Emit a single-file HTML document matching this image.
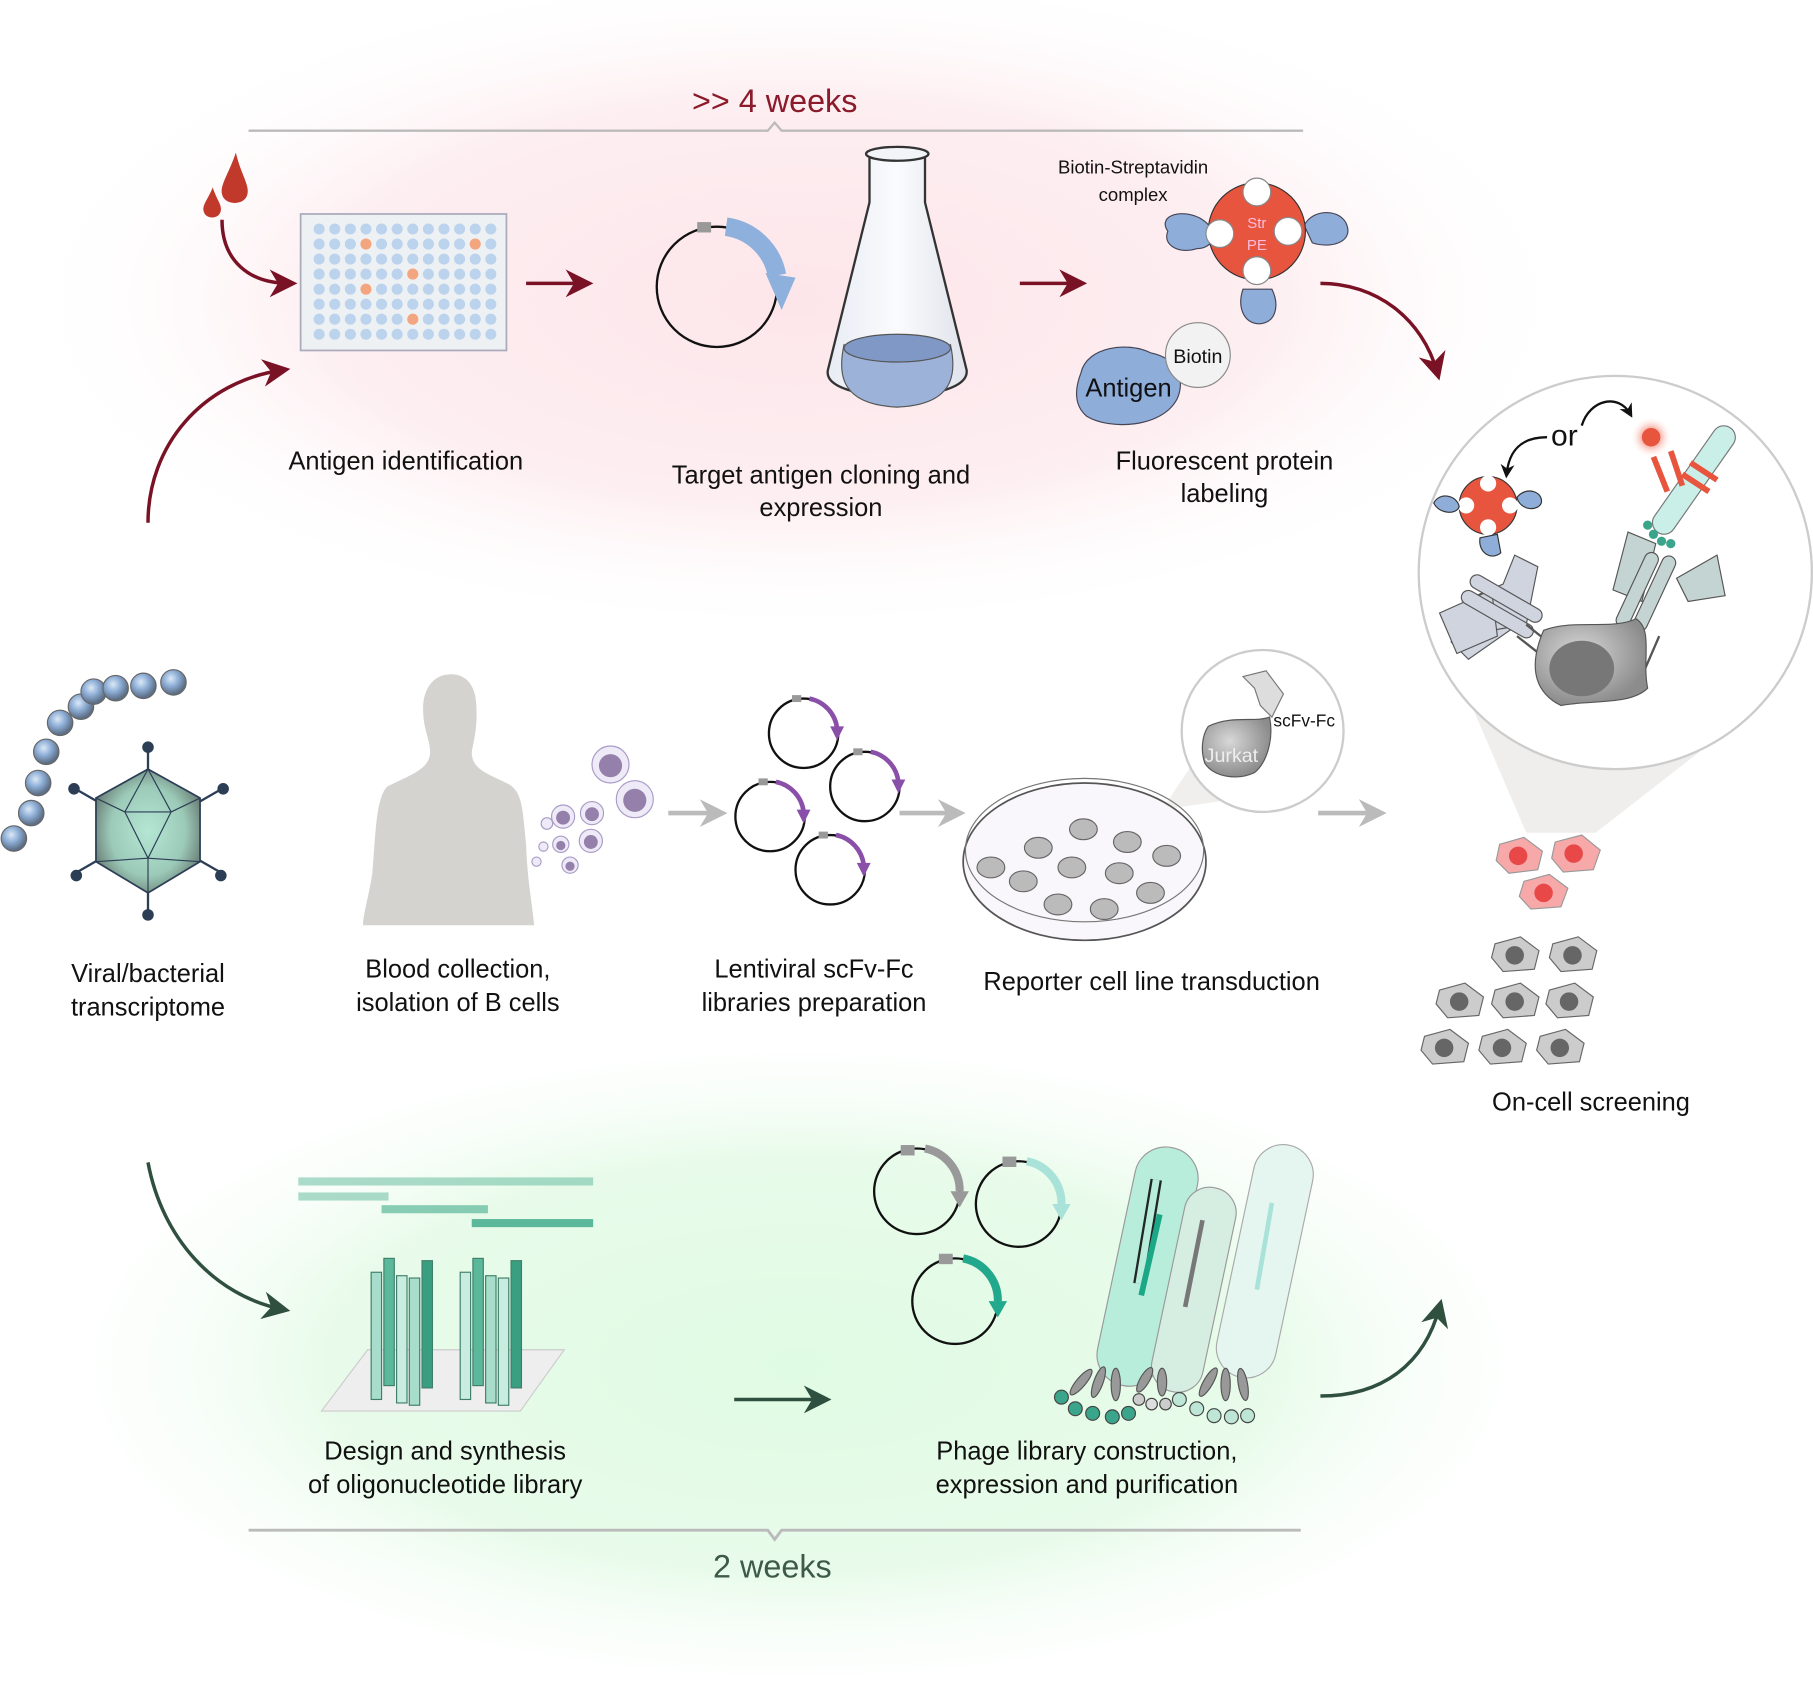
<!DOCTYPE html>
<html><head><meta charset="utf-8"><style>
html,body{margin:0;padding:0;background:#fff;}
svg{display:block;}
text{font-family:"Liberation Sans",sans-serif;}
</style></head><body>
<svg width="1813" height="1684" viewBox="0 0 1568 1456" preserveAspectRatio="none" xmlns="http://www.w3.org/2000/svg">
<defs>
<radialGradient id="pink" cx="0.5" cy="0.5" r="0.5"><stop offset="0" stop-color="#fde6ea"/><stop offset="0.6" stop-color="#fdeef1"/><stop offset="1" stop-color="#fff" stop-opacity="0"/></radialGradient>
<radialGradient id="green" cx="0.5" cy="0.5" r="0.5"><stop offset="0" stop-color="#e0fbe4"/><stop offset="0.6" stop-color="#e8fbea"/><stop offset="1" stop-color="#fff" stop-opacity="0"/></radialGradient>
<radialGradient id="bead" cx="0.4" cy="0.35" r="0.6"><stop offset="0" stop-color="#dbe9f7"/><stop offset="0.5" stop-color="#8eaed6"/><stop offset="1" stop-color="#5d6f86"/></radialGradient>
<radialGradient id="virus" cx="0.5" cy="0.5" r="0.6"><stop offset="0" stop-color="#b5e6d4"/><stop offset="0.6" stop-color="#9ccab8"/><stop offset="1" stop-color="#5f6e68"/></radialGradient>
<radialGradient id="cell" cx="0.4" cy="0.4" r="0.6"><stop offset="0" stop-color="#d8d8d8"/><stop offset="1" stop-color="#8c8c8c"/></radialGradient>
<radialGradient id="pe" cx="0.5" cy="0.5" r="0.5"><stop offset="0" stop-color="#f26a55"/><stop offset="0.5" stop-color="#f7a89c" stop-opacity="0.7"/><stop offset="1" stop-color="#fff" stop-opacity="0"/></radialGradient>
<linearGradient id="flask" x1="0" y1="0" x2="1" y2="0"><stop offset="0" stop-color="#e8ecf4"/><stop offset="0.5" stop-color="#fafbfd"/><stop offset="1" stop-color="#dfe3eb"/></linearGradient>
<marker id="ar" viewBox="0 0 10 10" refX="7" refY="5" markerWidth="8" markerHeight="8" orient="auto"><path d="M0,0 L10,5 L0,10 L3,5z" fill="#7a1226"/></marker>
<marker id="ag" viewBox="0 0 10 10" refX="7" refY="5" markerWidth="8" markerHeight="8" orient="auto"><path d="M0,0 L10,5 L0,10 L3,5z" fill="#2f4f3f"/></marker>
<marker id="agr" viewBox="0 0 10 10" refX="7" refY="5" markerWidth="6" markerHeight="6" orient="auto"><path d="M0,0 L10,5 L0,10 L3,5z" fill="#bbb"/></marker>
<marker id="ab" viewBox="0 0 10 10" refX="7" refY="5" markerWidth="6" markerHeight="6" orient="auto"><path d="M0,0 L10,5 L0,10 L3,5z" fill="#111"/></marker>
</defs>
<rect width="1568" height="1456" fill="#fff"/>
<ellipse cx="690" cy="260" rx="680" ry="290" fill="url(#pink)"/>
<ellipse cx="690" cy="1180" rx="680" ry="300" fill="url(#green)"/>

<text x="670" y="97" font-size="28" fill="#8b1a2b" text-anchor="middle">&gt;&gt; 4 weeks</text>
<path d="M215,113 H664 L670,106 L676,113 H1127" stroke="#bbb" stroke-width="2" fill="none"/>
<path d="M215,1323 H664 L670,1331 L676,1323 H1125" stroke="#bbb" stroke-width="2.5" fill="none"/>
<text x="668" y="1364" font-size="28" fill="#3d5a48" text-anchor="middle">2 weeks</text>

<path d="M204,132 C198,150 190,160 192,168 C194,178 212,178 214,168 C216,160 208,150 204,132z" fill="#c0392b"/>
<path d="M184,162 C180,172 175,177 176,182 C177,190 190,190 191,182 C192,177 187,172 184,162z" fill="#c0392b"/>
<path d="M192,190 C192,225 215,245 250,245" stroke="#7a1226" stroke-width="3" fill="none" marker-end="url(#ar)"/>
<path d="M455,245 H506" stroke="#7a1226" stroke-width="3" fill="none" marker-end="url(#ar)"/>
<path d="M128,452 C128,385 175,330 244,320" stroke="#7a1226" stroke-width="3" fill="none" marker-end="url(#ar)"/>
<path d="M882,245 H933" stroke="#7a1226" stroke-width="3" fill="none" marker-end="url(#ar)"/>
<path d="M1142,245 C1190,245 1230,275 1243,322" stroke="#7a1226" stroke-width="3" fill="none" marker-end="url(#ar)"/>

<rect x="260" y="185" width="178" height="118" fill="#eef1f3" stroke="#aab" stroke-width="1.5"/>

<circle cx="620" cy="248" r="52" fill="none" stroke="#111" stroke-width="2"/>
<path d="M628,196 A52,52 0 0 1 672,238" stroke="#8eb0dc" stroke-width="16" fill="none"/>
<path d="M662,236 L688,240 L676,268z" fill="#8eb0dc"/>
<rect x="603" y="192" width="12" height="9" fill="#999"/>
<path d="M752,135 L752,175 L716,320 C710,350 840,350 836,320 L800,175 L800,135z" fill="url(#flask)" stroke="#333" stroke-width="2"/>
<ellipse cx="776" cy="133" rx="27" ry="6" fill="#f3f4f7" stroke="#333" stroke-width="2"/>
<path d="M730,298 C724,325 728,350 776,352 C824,350 828,325 822,298 C810,308 742,308 730,298z" fill="#9db2d9" stroke="#555"/>
<ellipse cx="776" cy="301" rx="46" ry="12" fill="#7f98c6" stroke="#555"/>

<path d="M1010,200 C1000,185 1025,180 1040,190 C1055,200 1050,215 1035,215 C1020,220 1005,212 1010,200z" fill="#8eadd9" stroke="#445" stroke-width="1"/>
<path d="M1128,195 C1135,180 1160,180 1165,195 C1170,210 1150,215 1135,210z" fill="#8eadd9" stroke="#445" stroke-width="1"/>
<path d="M1075,250 C1070,265 1075,280 1090,280 C1105,278 1106,262 1100,250z" fill="#8eadd9" stroke="#445" stroke-width="1"/>
<circle cx="1087" cy="200" r="42" fill="#e8553e" stroke="#333" stroke-width="1"/>
<circle cx="1087" cy="166" r="12" fill="#fff" stroke="#888"/>
<circle cx="1087" cy="234" r="12" fill="#fff" stroke="#888"/>
<circle cx="1055" cy="202" r="12" fill="#fff" stroke="#888"/>
<circle cx="1114" cy="200" r="12" fill="#fff" stroke="#888"/>
<text x="1087" y="197" font-size="13" fill="#fbd" text-anchor="middle">Str</text>
<text x="1087" y="216" font-size="13" fill="#fbd" text-anchor="middle">PE</text>
<text x="980" y="150" font-size="16" fill="#111" text-anchor="middle">Biotin-Streptavidin</text>
<text x="980" y="174" font-size="16" fill="#111" text-anchor="middle">complex</text>
<path d="M935,322 C940,300 975,295 995,305 C1020,310 1025,330 1018,345 C1005,370 960,372 940,360 C928,350 930,335 935,322z" fill="#8eadd9" stroke="#445"/>
<circle cx="1036" cy="307" r="28" fill="#f2f2f2" stroke="#888"/>
<text x="1036" y="314" font-size="17" fill="#111" text-anchor="middle">Biotin</text>
<text x="976" y="343" font-size="22" fill="#111" text-anchor="middle">Antigen</text>

<text x="351" y="406" font-size="22" fill="#111" text-anchor="middle">Antigen identification</text>
<text x="710" y="418" font-size="22" fill="#111" text-anchor="middle">Target antigen cloning and</text>
<text x="710" y="446" font-size="22" fill="#111" text-anchor="middle">expression</text>
<text x="1059" y="406" font-size="22" fill="#111" text-anchor="middle">Fluorescent protein</text>
<text x="1059" y="434" font-size="22" fill="#111" text-anchor="middle">labeling</text>

<path d="M1262,585 L1320,720 L1380,720 L1470,650z" fill="#efeeec"/>
<circle cx="1397" cy="495" r="170" fill="#fff" stroke="#ccc" stroke-width="2"/>
<text x="1353" y="385" font-size="26" fill="#111" text-anchor="middle">or</text>
<path d="M1338,378 C1315,378 1305,390 1303,410" stroke="#111" stroke-width="2" fill="none" marker-end="url(#ab)"/>
<path d="M1368,368 C1375,345 1400,340 1410,358" stroke="#111" stroke-width="2" fill="none" marker-end="url(#ab)"/>
<g fill="#cfd4df" stroke="#555" stroke-width="1">
<path d="M1255,555 L1300,520 L1320,535 L1270,570z"/>
<path d="M1265,520 L1300,505 L1310,480 L1330,490 L1320,540 L1290,545z"/>
<path d="M1245,530 L1290,510 L1295,550 L1260,565z"/>
<rect x="1268" y="510" width="70" height="12" rx="6" transform="rotate(30 1300 516)"/>
<rect x="1260" y="525" width="70" height="12" rx="6" transform="rotate(30 1295 531)"/>
</g>
<path d="M1320,540 L1345,560 M1312,550 L1340,572" stroke="#555" stroke-width="2"/>
<circle cx="1287" cy="437" r="25" fill="#e8553e" stroke="#333"/>
<circle cx="1287" cy="418" r="7" fill="#fff"/><circle cx="1287" cy="456" r="7" fill="#fff"/>
<circle cx="1268" cy="437" r="7" fill="#fff"/><circle cx="1306" cy="437" r="7" fill="#fff"/>
<path d="M1240,435 C1245,425 1260,428 1262,438 C1260,445 1245,445 1240,435z" fill="#8eadd9" stroke="#333"/>
<path d="M1312,430 C1320,420 1335,425 1333,435 C1330,442 1315,442 1312,430z" fill="#8eadd9" stroke="#333"/>
<path d="M1280,465 C1278,478 1290,485 1298,478 L1295,462z" fill="#8eadd9" stroke="#333"/>
<g fill="#c4d4d2" stroke="#555" stroke-width="1">
<path d="M1408,460 L1432,470 L1420,520 L1395,510z"/>
<path d="M1450,500 L1485,480 L1492,515 L1460,520z"/>
<rect x="1410" y="475" width="12" height="70" rx="6" transform="rotate(25 1416 510)"/>
<rect x="1425" y="478" width="12" height="70" rx="6" transform="rotate(25 1431 513)"/>
</g>
<path d="M1422,548 L1410,575 M1435,550 L1422,580" stroke="#555" stroke-width="2"/>
<rect x="1455" y="360" width="20" height="110" rx="10" fill="#c9efe8" stroke="#777" transform="rotate(35 1465 415)"/>
<path d="M1430,395 L1442,425 M1445,390 L1455,420 M1455,410 L1478,425 M1462,400 L1485,415" stroke="#e8553e" stroke-width="5"/>
<circle cx="1428" cy="378" r="18" fill="url(#pe)"/>
<circle cx="1428" cy="378" r="8" fill="#e8553e"/>
<g fill="#3aa58a"><circle cx="1425" cy="454" r="4"/><circle cx="1430" cy="462" r="4"/><circle cx="1437" cy="468" r="4"/><circle cx="1445" cy="470" r="4"/></g>
<path d="M1335,545 C1360,535 1395,545 1415,535 C1430,545 1420,570 1425,595 C1410,610 1375,605 1350,610 C1330,600 1320,580 1335,545z" fill="url(#cell)" stroke="#555"/>
<ellipse cx="1368" cy="578" rx="28" ry="24" fill="#777"/>

<g fill="url(#bead)" stroke="#666" stroke-width="1">
<circle cx="12" cy="725" r="11"/><circle cx="27" cy="703" r="11"/><circle cx="33" cy="677" r="11"/><circle cx="40" cy="650" r="11"/><circle cx="52" cy="625" r="11"/><circle cx="70" cy="611" r="11"/><circle cx="81" cy="598" r="11"/><circle cx="100" cy="595" r="11"/><circle cx="124" cy="593" r="11"/><circle cx="150" cy="590" r="11"/>
</g>
<g stroke="#2c3e55" stroke-width="2">
<line x1="128" y1="645" x2="128" y2="790"/><line x1="65" y1="682" x2="192" y2="755"/><line x1="192" y1="682" x2="65" y2="755"/>
</g>
<g fill="#2c3e55"><circle cx="128" cy="646" r="5"/><circle cx="128" cy="791" r="5"/><circle cx="64" cy="682" r="5"/><circle cx="193" cy="682" r="5"/><circle cx="66" cy="757" r="5"/><circle cx="191" cy="757" r="5"/></g>
<path d="M128,665 L173,690 L173,745 L128,772 L83,745 L83,690z" fill="url(#virus)" stroke="#2c3e55" stroke-width="1.5"/>
<path d="M128,665 L108,702 L128,742 L148,702z M108,702 H148 M83,690 L108,702 M173,690 L148,702 M83,745 L128,742 L173,745 M128,742 V772" stroke="#2c3e55" fill="none"/>
<text x="128" y="849" font-size="22" fill="#111" text-anchor="middle">Viral/bacterial</text>
<text x="128" y="878" font-size="22" fill="#111" text-anchor="middle">transcriptome</text>

<path d="M390,583 C372,583 365,600 366,615 C366,630 372,640 372,650 C372,665 355,670 335,680 C325,690 325,720 322,755 C318,780 314,790 314,800 H462 C460,780 456,760 455,730 C452,700 452,685 440,678 C420,668 408,665 408,650 C410,640 413,628 412,612 C412,595 405,583 390,583z" fill="#d5d3d0"/>
<g fill="#eeeaf7" stroke="#a99cc6">
<circle cx="528" cy="661" r="16"/><circle cx="549" cy="691" r="16"/><circle cx="487" cy="706" r="10"/><circle cx="512" cy="703" r="10"/><circle cx="511" cy="727" r="10"/><circle cx="485" cy="730" r="7"/><circle cx="493" cy="748" r="7"/><circle cx="473" cy="712" r="5"/><circle cx="470" cy="732" r="4"/><circle cx="464" cy="745" r="4"/>
</g>
<g fill="#9480aa"><circle cx="528" cy="662" r="10"/><circle cx="549" cy="692" r="10"/><circle cx="487" cy="707" r="6"/><circle cx="512" cy="704" r="6"/><circle cx="511" cy="728" r="6"/><circle cx="485" cy="731" r="4"/><circle cx="493" cy="749" r="4"/></g>
<text x="396" y="845" font-size="22" fill="#111" text-anchor="middle">Blood collection,</text>
<text x="396" y="874" font-size="22" fill="#111" text-anchor="middle">isolation of B cells</text>

<path d="M578,703 H622" stroke="#bbb" stroke-width="4" marker-end="url(#agr)"/>
<path d="M778,703 H828" stroke="#bbb" stroke-width="4" marker-end="url(#agr)"/>
<path d="M1140,703 H1192" stroke="#bbb" stroke-width="4" marker-end="url(#agr)"/>

<g fill="none" stroke="#111" stroke-width="2">
<circle cx="695" cy="634" r="30"/><circle cx="748" cy="680" r="30"/><circle cx="666" cy="706" r="30"/><circle cx="718" cy="752" r="30"/>
</g>
<g fill="none" stroke="#8a4fa8" stroke-width="4">
<path d="M700,604 A30,30 0 0 1 724,630"/><path d="M753,650 A30,30 0 0 1 777,676"/><path d="M671,676 A30,30 0 0 1 695,702"/><path d="M723,722 A30,30 0 0 1 747,748"/>
</g>
<g fill="#8a4fa8"><path d="M718,628 L730,628 L724,640z"/><path d="M771,674 L783,674 L777,686z"/><path d="M689,700 L701,700 L695,712z"/><path d="M741,746 L753,746 L747,758z"/></g>
<g fill="#999"><rect x="685" y="601" width="8" height="6"/><rect x="738" y="647" width="8" height="6"/><rect x="656" y="673" width="8" height="6"/><rect x="708" y="719" width="8" height="6"/></g>
<text x="704" y="845" font-size="22" fill="#111" text-anchor="middle">Lentiviral scFv-Fc</text>
<text x="704" y="874" font-size="22" fill="#111" text-anchor="middle">libraries preparation</text>

<path d="M1005,700 L1045,640 L1075,690z" fill="#f0efee"/>
<ellipse cx="938" cy="745" rx="105" ry="68" fill="#f9f7fb" stroke="#555" stroke-width="1.5"/>
<ellipse cx="938" cy="735" rx="103" ry="62" fill="none" stroke="#777"/>
<g fill="#bbb" stroke="#666">
<ellipse cx="857" cy="750" rx="12" ry="9"/><ellipse cx="885" cy="762" rx="12" ry="9"/><ellipse cx="898" cy="733" rx="12" ry="9"/><ellipse cx="937" cy="717" rx="12" ry="9"/><ellipse cx="927" cy="750" rx="12" ry="9"/><ellipse cx="975" cy="728" rx="12" ry="9"/><ellipse cx="968" cy="755" rx="12" ry="9"/><ellipse cx="1009" cy="740" rx="12" ry="9"/><ellipse cx="995" cy="772" rx="12" ry="9"/><ellipse cx="915" cy="782" rx="12" ry="9"/><ellipse cx="955" cy="786" rx="12" ry="9"/>
</g>
<circle cx="1092" cy="632" r="70" fill="#fff" stroke="#ccc" stroke-width="2"/>
<path d="M1045,628 C1065,618 1085,625 1098,620 C1102,640 1095,660 1085,668 C1070,675 1050,672 1042,660 C1038,648 1040,635 1045,628z" fill="url(#cell)" stroke="#555"/>
<path d="M1075,585 L1095,580 L1110,600 L1100,620 L1090,610 L1085,595z" fill="#ddd" stroke="#777"/>
<text x="1065" y="659" font-size="17" fill="#eee" text-anchor="middle">Jurkat</text>
<text x="1128" y="628" font-size="15" fill="#111" text-anchor="middle">scFv-Fc</text>
<text x="996" y="856" font-size="22" fill="#111" text-anchor="middle">Reporter cell line transduction</text>

<g fill="#f7a9a9" stroke="#999"><path d="M1297,730 L1318,724 L1334,736 L1330,752 L1305,755 L1294,744z"/><path d="M1345,728 L1368,722 L1384,735 L1378,752 L1352,754 L1342,742z"/><path d="M1318,762 L1340,756 L1356,768 L1350,784 L1324,786 L1314,775z"/></g>
<g fill="#e84848"><circle cx="1313" cy="740" r="8"/><circle cx="1361" cy="738" r="8"/><circle cx="1335" cy="772" r="8"/></g>
<g fill="#ccc" stroke="#666">
<path d="M1293,816 L1315,810 L1331,822 L1327,838 L1300,840 L1290,828z"/><path d="M1343,816 L1365,810 L1381,822 L1377,838 L1350,840 L1340,828z"/>
<path d="M1245,856 L1267,850 L1283,862 L1279,878 L1252,880 L1242,868z"/><path d="M1293,856 L1315,850 L1331,862 L1327,878 L1300,880 L1290,868z"/><path d="M1340,856 L1362,850 L1378,862 L1374,878 L1347,880 L1337,868z"/>
<path d="M1232,896 L1254,890 L1270,902 L1266,918 L1239,920 L1229,908z"/><path d="M1282,896 L1304,890 L1320,902 L1316,918 L1289,920 L1279,908z"/><path d="M1332,896 L1354,890 L1370,902 L1366,918 L1339,920 L1329,908z"/>
</g>
<g fill="#666"><circle cx="1310" cy="826" r="8"/><circle cx="1360" cy="826" r="8"/><circle cx="1262" cy="866" r="8"/><circle cx="1310" cy="866" r="8"/><circle cx="1357" cy="866" r="8"/><circle cx="1249" cy="906" r="8"/><circle cx="1299" cy="906" r="8"/><circle cx="1349" cy="906" r="8"/></g>
<text x="1376" y="960" font-size="22" fill="#111" text-anchor="middle">On-cell screening</text>

<path d="M128,1005 C140,1070 185,1120 244,1132" stroke="#2f4f3f" stroke-width="3" fill="none" marker-end="url(#ag)"/>
<path d="M635,1210 H712" stroke="#2f4f3f" stroke-width="3" fill="none" marker-end="url(#ag)"/>
<path d="M1142,1207 C1195,1207 1232,1180 1245,1130" stroke="#2f4f3f" stroke-width="3" fill="none" marker-end="url(#ag)"/>

<g fill="#5bb89a"><rect x="258" y="1018" width="255" height="7" opacity="0.5"/><rect x="258" y="1031" width="78" height="7" opacity="0.5"/><rect x="330" y="1042" width="92" height="7" opacity="0.7"/><rect x="408" y="1054" width="105" height="7"/></g>
<path d="M278,1220 L318,1167 L488,1167 L450,1220z" fill="#eee" stroke="#ccc"/>
<g stroke="#3f7f6a" stroke-width="1">
<rect x="321" y="1100" width="9" height="110" fill="#a8dccb"/><rect x="332" y="1088" width="9" height="110" fill="#5bb89a"/><rect x="343" y="1103" width="9" height="110" fill="#c9ece0"/><rect x="354" y="1105" width="9" height="110" fill="#a8dccb"/><rect x="365" y="1090" width="9" height="110" fill="#3a9e80"/>
<rect x="398" y="1100" width="9" height="110" fill="#c9ece0"/><rect x="409" y="1088" width="9" height="110" fill="#5bb89a"/><rect x="420" y="1103" width="9" height="110" fill="#a8dccb"/><rect x="431" y="1105" width="9" height="110" fill="#c9ece0"/><rect x="442" y="1090" width="9" height="110" fill="#3a9e80"/>
</g>
<text x="385" y="1262" font-size="22" fill="#111" text-anchor="middle">Design and synthesis</text>
<text x="385" y="1291" font-size="22" fill="#111" text-anchor="middle">of oligonucleotide library</text>

<g fill="none" stroke="#111" stroke-width="2"><circle cx="793" cy="1030" r="37"/><circle cx="881" cy="1041" r="37"/><circle cx="826" cy="1125" r="37"/></g>
<path d="M800,993 A37,37 0 0 1 830,1030" stroke="#999" stroke-width="7" fill="none"/>
<path d="M888,1004 A37,37 0 0 1 918,1041" stroke="#a8e2d8" stroke-width="7" fill="none"/>
<path d="M833,1088 A37,37 0 0 1 863,1125" stroke="#22a88c" stroke-width="7" fill="none"/>
<g><path d="M822,1030 L838,1030 L830,1044z" fill="#999"/><path d="M910,1041 L926,1041 L918,1055z" fill="#a8e2d8"/><path d="M855,1125 L871,1125 L863,1139z" fill="#22a88c"/></g>
<g fill="#999"><rect x="779" y="990" width="12" height="9"/><rect x="867" y="1000" width="12" height="9"/><rect x="812" y="1084" width="12" height="9"/></g>
<rect x="965" y="990" width="55" height="210" rx="27" fill="#b8eddc" stroke="#999" transform="rotate(12 992 1095)"/>
<rect x="1010" y="1025" width="45" height="180" rx="22" fill="#d6eee2" stroke="#999" transform="rotate(12 1032 1115)"/>
<rect x="1068" y="988" width="52" height="205" rx="26" fill="#e4f6ef" stroke="#aaa" transform="rotate(12 1094 1090)"/>
<path d="M1000,1020 L985,1110" stroke="#111" stroke-width="10" fill="none" opacity="0.9"/><path d="M1000,1020 L985,1110" stroke="#b8eddc" stroke-width="6" fill="none"/>
<path d="M1003,1050 L987,1120" stroke="#1aa886" stroke-width="5"/>
<path d="M1040,1055 L1025,1130" stroke="#777" stroke-width="4"/>
<path d="M1100,1040 L1087,1115" stroke="#a8e2d8" stroke-width="4"/>
<g fill="#999" stroke="#555"><ellipse cx="935" cy="1195" rx="4" ry="14" transform="rotate(40 935 1195)"/><ellipse cx="950" cy="1195" rx="4" ry="14" transform="rotate(20 950 1195)"/><ellipse cx="965" cy="1197" rx="4" ry="14"/><ellipse cx="990" cy="1193" rx="4" ry="12" transform="rotate(30 990 1193)"/><ellipse cx="1005" cy="1195" rx="4" ry="12"/><ellipse cx="1045" cy="1195" rx="4" ry="14" transform="rotate(30 1045 1195)"/><ellipse cx="1060" cy="1197" rx="4" ry="14"/><ellipse cx="1075" cy="1197" rx="4" ry="14" transform="rotate(-10 1075 1197)"/></g>
<g stroke="#444"><circle cx="918" cy="1208" r="6" fill="#3aa58a"/><circle cx="930" cy="1218" r="6" fill="#3aa58a"/><circle cx="945" cy="1222" r="6" fill="#3aa58a"/><circle cx="962" cy="1225" r="6" fill="#3aa58a"/><circle cx="976" cy="1222" r="6" fill="#3aa58a"/><circle cx="985" cy="1210" r="5" fill="#ccc"/><circle cx="996" cy="1214" r="5" fill="#ddd"/><circle cx="1008" cy="1214" r="5" fill="#ccc"/><circle cx="1020" cy="1210" r="6" fill="#bde6d6"/><circle cx="1035" cy="1218" r="6" fill="#bde6d6"/><circle cx="1050" cy="1224" r="6" fill="#bde6d6"/><circle cx="1065" cy="1225" r="6" fill="#bde6d6"/><circle cx="1079" cy="1224" r="6" fill="#bde6d6"/></g>
<text x="940" y="1262" font-size="22" fill="#111" text-anchor="middle">Phage library construction,</text>
<text x="940" y="1291" font-size="22" fill="#111" text-anchor="middle">expression and purification</text>

<g id="grid"></g>
</svg>
<script>
(function(){var g=document.getElementById('grid');var ns='http://www.w3.org/2000/svg';
var orange={'3,1':1,'10,1':1,'6,3':1,'3,4':1,'6,6':1};
for(var r=0;r<8;r++)for(var c=0;c<12;c++){var e=document.createElementNS(ns,'circle');
e.setAttribute('cx',276+c*13.5);e.setAttribute('cy',198+r*13);e.setAttribute('r',4.8);
e.setAttribute('fill',orange[c+','+r]?'#f2a57e':'#bcd3ee');g.appendChild(e);}})();
</script>
</body></html>
